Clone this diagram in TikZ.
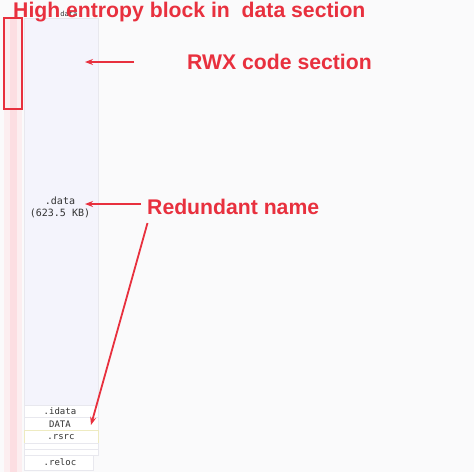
\documentclass[tikz,border=0pt]{standalone}
\usepackage{fontspec}
\setmainfont{Liberation Sans}
\setmonofont{DejaVu Sans Mono}
\usetikzlibrary{arrows.meta}

\definecolor{notered}{RGB}{232,48,62}
\definecolor{pagebg}{RGB}{250,250,251}
\definecolor{secfill}{RGB}{244,244,252}
\definecolor{stripfaint}{RGB}{252,238,240}
\definecolor{stripink}{RGB}{252,222,226}
\definecolor{cellline}{RGB}{232,232,238}

\begin{document}
\begin{tikzpicture}[x=1pt, y=-1pt, >={Stealth[length=8pt, width=6pt]},
    note/.style={text=notered, font=\bfseries\fontsize{21.2}{21.2}\selectfont, anchor=base west, inner sep=0pt},
    seclabel/.style={font=\ttfamily\fontsize{9}{10}\selectfont, text=black!80, inner sep=0pt, align=center},
    cell/.style={fill=white, draw=cellline, line width=0.6pt},
    pointer/.style={->, draw=notered, line width=1.8pt}]
    \useasboundingbox[fill=pagebg] (0,0) rectangle (474,472);

    % ==================== entropy strip ====================
    \fill[stripfaint] (4,18) rectangle (22,472);
    \fill[stripink] (10,18) rectangle (17,472);

    % ==================== section column ====================
    \filldraw[fill=secfill, draw=cellline, line width=0.6pt] (24,18) rectangle (98,405);
    \node[seclabel, font=\ttfamily\fontsize{7}{7}\selectfont, anchor=west] (toplbl) at (56,14) {.data};
    \node[seclabel, font=\ttfamily\fontsize{10}{12}\selectfont] (datalbl) at (60,207) {.data\\(623.5 KB)};

    % bottom sections
    \draw[cell] (24,405) rectangle (98,417);
    \draw[cell] (24,417) rectangle (98,430);
    \draw[cell, draw=yellow!20!cellline] (24,430) rectangle (98,443);
    \draw[cell] (24,443) rectangle (98,449);
    \draw[cell] (24,449) rectangle (98,455);
    \draw[cell] (24,455) rectangle (93,470);
    \node[seclabel] (idatalbl) at (60,411.5) {.idata};
    \node[seclabel] (DATAlbl) at (60,424) {DATA};
    \node[seclabel] (rsrclbl) at (61,437) {.rsrc};
    \node[seclabel] (reloclbl) at (60,462) {.reloc};

    % ==================== highlight box ====================
    \draw[notered, line width=1.8pt] (4,18) rectangle (22,109);

    % ==================== notes ====================
    \node[note] (entropy) at (13,17.5) {High entropy block in\ \ data section};
    \node[note] (rwx) at (187,69.5) {RWX code section};
    \node[note] (redundant) at (147,214.5) {Redundant name};

    % pointers
    \coordinate (rwxtail) at (134,62);
    \coordinate (rwxhead) at (85,62);
    \coordinate (redtail) at (141,204);
    \coordinate (redhead) at (85,204);
    \coordinate (dtail) at (147.5,223);
    \coordinate (dhead) at (91,425);
    \draw[pointer] (rwxtail) -- (rwxhead);
    \draw[pointer] (redtail) -- (redhead);
    \draw[pointer] (dtail) -- (dhead);
\end{tikzpicture}
\end{document}
